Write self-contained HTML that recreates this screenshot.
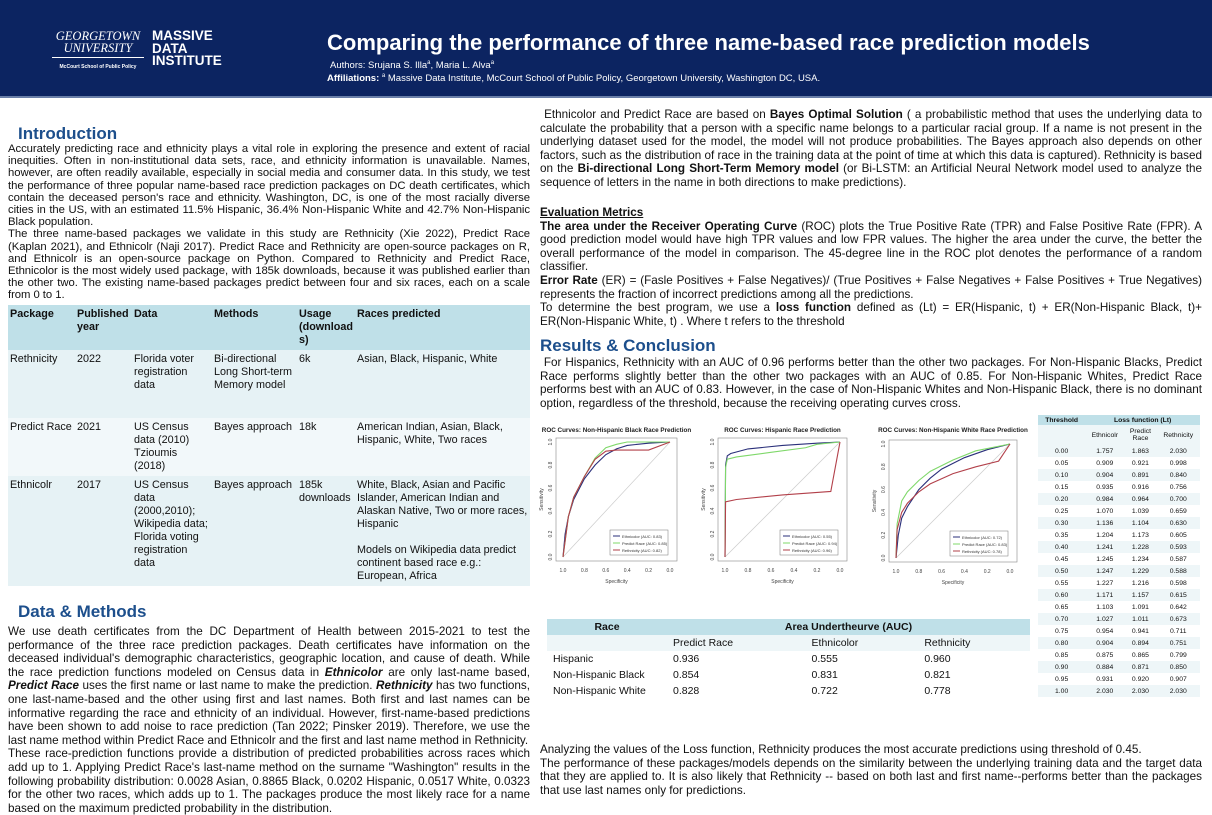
<!DOCTYPE html>
<html><head><meta charset="utf-8">
<style>
*{margin:0;padding:0;box-sizing:border-box}
body{width:1212px;height:808px;overflow:hidden;background:#fff;font-family:"Liberation Sans",sans-serif;color:#111;position:relative}
.abs{position:absolute}
.hdr{left:0;top:0;width:1212px;height:98px;background:#0c2461;border-bottom:2px solid #6a7fa8}
h2{position:absolute;font-size:17px;font-weight:bold;color:#1d4f8c}
.txt{position:absolute;font-size:11.7px;line-height:13.6px;text-align:justify}
table{border-collapse:collapse;font-size:10.8px}
.pk{table-layout:fixed}
.pk td{vertical-align:top;padding:3px 2px;line-height:13px}
.pk th{text-align:left;vertical-align:top;padding:3px 2px;background:#bfe0e8;line-height:13px}
.pk tr.a td{background:#e6f2f5}.pk tr.b td{background:#f2f8fa}
.auc td,.auc th{font-size:10.5px;padding:2px 6px;text-align:left;height:16px}
.auc th{background:#bfe0e8;text-align:center}
.loss td,.loss th{font-size:6.8px;text-align:center;height:12px;line-height:7px;padding:0 2px}
.loss th{background:#bfe0e8;height:10px}
.loss tr:nth-child(even) td{background:#eef6f8}
</style></head><body>
<div class="abs hdr">
 <div class="abs" style="left:52px;top:30px;width:92px;color:#fff;font-family:'Liberation Serif',serif;font-style:italic;font-size:12.5px;line-height:12px;text-align:center">GEORGETOWN<br>UNIVERSITY<div style="border-top:1px solid #fff;margin-top:3px;padding-top:3px;font-size:5px;font-style:normal;font-family:'Liberation Sans';font-weight:bold;white-space:nowrap">McCourt School of Public Policy</div></div>
 <div class="abs" style="left:152px;top:30px;color:#fff;font-weight:bold;font-size:13.5px;line-height:12.5px">MASSIVE<br>DATA<br>INSTITUTE</div>
 <div class="abs" style="left:327px;top:30px;color:#fff;font-weight:bold;font-size:22px">Comparing the performance of three name-based race prediction models</div>
 <div class="abs" style="left:330px;top:60px;color:#fff;font-size:9.5px">Authors: Srujana S. Illa<sup style="font-size:6px">a</sup>, Maria L. Alva<sup style="font-size:6px">a</sup></div>
 <div class="abs" style="left:327px;top:73px;color:#fff;font-size:9.5px"><b>Affiliations:</b> <sup style="font-size:6px">a</sup> Massive Data Institute, McCourt School of Public Policy, Georgetown University, Washington DC, USA.</div>
</div>

<h2 style="left:18px;top:124px">Introduction</h2>
<div class="txt" style="left:8px;top:143px;width:522px;font-size:11.3px;line-height:12.2px;letter-spacing:-0.05px">Accurately predicting race and ethnicity plays a vital role in exploring the presence and extent of racial inequities. Often in non-institutional data sets, race, and ethnicity information is unavailable. Names, however, are often readily available, especially in social media and consumer data. In this study, we test the performance of three popular name-based race prediction packages on DC death certificates, which contain the deceased person's race and ethnicity. Washington, DC, is one of the most racially diverse cities in the US, with an estimated 11.5% Hispanic, 36.4% Non-Hispanic White and 42.7% Non-Hispanic Black population.<br>The three name-based packages we validate in this study are Rethnicity (Xie 2022), Predict Race (Kaplan 2021), and Ethnicolr (Naji 2017). Predict Race and Rethnicity are open-source packages on R, and Ethnicolr is an open-source package on Python. Compared to Rethnicity and Predict Race, Ethnicolor is the most widely used package, with 185k downloads, because it was published earlier than the other two. The existing name-based packages predict between four and six races, each on a scale from 0 to 1.</div>

<table class="abs pk" style="left:8px;top:305px;width:522px">
<colgroup><col style="width:67px"><col style="width:57px"><col style="width:80px"><col style="width:85px"><col style="width:58px"><col style="width:175px"></colgroup>
<tr style="height:42px"><th>Package</th><th>Published year</th><th>Data</th><th>Methods</th><th>Usage (download s)</th><th>Races predicted</th></tr>
<tr class="a" style="height:68px"><td>Rethnicity</td><td>2022</td><td>Florida voter registration data</td><td>Bi-directional Long Short-term Memory model</td><td>6k</td><td>Asian, Black, Hispanic, White</td></tr>
<tr class="b" style="height:47px"><td style="white-space:nowrap">Predict Race</td><td>2021</td><td>US Census data (2010) Tzioumis (2018)</td><td>Bayes approach</td><td>18k</td><td>American Indian, Asian, Black, Hispanic, White, Two races</td></tr>
<tr class="a" style="height:110px"><td>Ethnicolr</td><td>2017</td><td>US Census data (2000,2010); Wikipedia data; Florida voting registration data</td><td>Bayes approach</td><td>185k downloads</td><td>White, Black, Asian and Pacific Islander, American Indian and Alaskan Native, Two or more races, Hispanic<br><br>Models on Wikipedia data predict continent based race e.g.: European, Africa</td></tr>
</table>

<h2 style="left:18px;top:602px">Data &amp; Methods</h2>
<div class="txt" style="left:8px;top:625px;width:522px">We use death certificates from the DC Department of Health between 2015-2021 to test the performance of the three race prediction packages. Death certificates have information on the deceased individual's demographic characteristics, geographic location, and cause of death. While the race prediction functions modeled on Census data in <b><i>Ethnicolor</i></b> are only last-name based, <b><i>Predict Race</i></b> uses the first name or last name to make the prediction. <b><i>Rethnicity</i></b> has two functions, one last-name-based and the other using first and last names. Both first and last names can be informative regarding the race and ethnicity of an individual. However, first-name-based predictions have been shown to add noise to race prediction (Tan 2022; Pinsker 2019). Therefore, we use the last name method within Predict Race and Ethnicolr and the first and last name method in Rethnicity.<br>These race-prediction functions provide a distribution of predicted probabilities across races which add up to 1. Applying Predict Race's last-name method on the surname "Washington" results in the following probability distribution: 0.0028 Asian, 0.8865 Black, 0.0202 Hispanic, 0.0517 White, 0.0323 for the other two races, which adds up to 1. The packages produce the most likely race for a name based on the maximum predicted probability in the distribution.</div>

<div class="txt" style="left:540px;top:108px;width:662px">&nbsp;Ethnicolor and Predict Race are based on <b>Bayes Optimal Solution</b> ( a probabilistic method that uses the underlying data to calculate the probability that a person with a specific name belongs to a particular racial group. If a name is not present in the underlying dataset used for the model, the model will not produce probabilities. The Bayes approach also depends on other factors, such as the distribution of race in the training data at the point of time at which this data is captured). Rethnicity is based on the <b>Bi-directional Long Short-Term Memory model</b> (or Bi-LSTM: an Artificial Neural Network model used to analyze the sequence of letters in the name in both directions to make predictions).</div>
<div class="txt" style="left:540px;top:206px;width:662px"><b><u>Evaluation Metrics</u></b><br><b>The area under the Receiver Operating Curve</b> (ROC) plots the True Positive Rate (TPR) and False Positive Rate (FPR). A good prediction model would have high TPR values and low FPR values. The higher the area under the curve, the better the overall performance of the model in comparison. The 45-degree line in the ROC plot denotes the performance of a random classifier.<br><b>Error Rate</b> (ER) = (Fasle Positives + False Negatives)/ (True Positives + False Negatives + False Positives + True Negatives) represents the fraction of incorrect predictions among all the predictions.<br>To determine the best program, we use a <b>loss function</b> defined as (Lt) = ER(Hispanic, t) + ER(Non-Hispanic Black, t)+ ER(Non-Hispanic White, t) . Where t refers to the threshold</div>

<h2 style="left:540px;top:336px">Results &amp; Conclusion</h2>
<div class="txt" style="left:540px;top:356px;width:662px">&nbsp;For Hispanics, Rethnicity with an AUC of 0.96 performs better than the other two packages. For Non-Hispanic Blacks, Predict Race performs slightly better than the other two packages with an AUC of 0.85. For Non-Hispanic Whites, Predict Race performs best with an AUC of 0.83. However, in the case of Non-Hispanic Whites and Non-Hispanic Black, there is no dominant option, regardless of the threshold, because the receiving operating curves cross.</div>

<svg class="abs" id="roc" style="left:536px;top:420px" width="500" height="172"></svg>

<table class="abs auc" style="left:547px;top:619px;width:483px">
<tr><th style="width:120px;background:#bfe0e8">Race</th><th colspan="3">Area Undertheurve (AUC)</th></tr>
<tr style="background:#eef6f8"><td></td><td>Predict Race</td><td>Ethnicolor</td><td>Rethnicity</td></tr>
<tr><td>Hispanic</td><td>0.936</td><td>0.555</td><td>0.960</td></tr>
<tr><td>Non-Hispanic Black</td><td>0.854</td><td>0.831</td><td>0.821</td></tr>
<tr><td>Non-Hispanic White</td><td>0.828</td><td>0.722</td><td>0.778</td></tr>
</table>

<table class="abs loss" id="loss" style="left:1038px;top:415px;width:162px">
<tr><th>Threshold</th><th colspan="3">Loss function (Lt)</th></tr>
<tr><td style="height:20px"></td><td>Ethnicolr</td><td>Predict<br>Race</td><td>Rethnicity</td></tr>
</table>

<div class="txt" style="left:540px;top:743px;width:662px">Analyzing the values of the Loss function, Rethnicity produces the most accurate predictions using threshold of 0.45.<br>The performance of these packages/models depends on the similarity between the underlying training data and the target data that they are applied to. It is also likely that Rethnicity -- based on both last and first name--performs better than the packages that use last names only for predictions.</div>

<script>
const thresholds=["0.00","0.05","0.10","0.15","0.20","0.25","0.30","0.35","0.40","0.45","0.50","0.55","0.60","0.65","0.70","0.75","0.80","0.85","0.90","0.95","1.00"];
const lossEthnicolr=[1.757,0.909,0.904,0.935,0.984,1.070,1.136,1.204,1.241,1.245,1.247,1.227,1.171,1.103,1.027,0.954,0.904,0.875,0.884,0.931,2.030];
const lossPredict=[1.863,0.921,0.891,0.916,0.964,1.039,1.104,1.173,1.228,1.234,1.229,1.216,1.157,1.091,1.011,0.941,0.894,0.865,0.871,0.920,2.030];
const lossRethnicity=[2.030,0.998,0.840,0.756,0.700,0.659,0.630,0.605,0.593,0.587,0.588,0.598,0.615,0.642,0.673,0.711,0.751,0.799,0.850,0.907,2.030];
const lt=document.getElementById('loss');
thresholds.forEach((t,i)=>{const tr=document.createElement('tr');


tr.innerHTML='<td>'+t+'</td><td>'+lossEthnicolr[i].toFixed(3)+'</td><td>'+lossPredict[i].toFixed(3)+'</td><td>'+lossRethnicity[i].toFixed(3)+'</td>';lt.appendChild(tr);});

const chartTitles=["ROC Curves: Non-Hispanic Black Race Prediction","ROC Curves: Hispanic Race Prediction","ROC Curves: Non-Hispanic White Race Prediction"];
const seriesNames=["Ethnicolor","Predict Race","Rethnicity"];
const seriesColors=["#2a2f7a","#7fd86a","#b2404a"];
const aucLabels=[["0.83","0.85","0.82"],["0.55","0.94","0.96"],["0.72","0.83","0.78"]];
const tickLabels=["1.0","0.8","0.6","0.4","0.2","0.0"];
const tickValues=[1,0.8,0.6,0.4,0.2,0];
// points as [1-specificity, sensitivity]
const blackEth=[[0,0],[0.02,0.2],[0.05,0.35],[0.1,0.5],[0.2,0.68],[0.3,0.8],[0.4,0.89],[0.5,0.94],[0.6,0.97],[0.8,0.99],[1,1]];
const blackPred=[[0,0],[0.05,0.35],[0.1,0.52],[0.2,0.7],[0.3,0.86],[0.4,0.95],[0.5,0.98],[0.6,1.0],[1,1]];
const blackReth=[[0,0],[0.05,0.35],[0.1,0.52],[0.2,0.7],[0.3,0.85],[0.4,0.92],[0.5,0.93],[0.8,0.93],[1,1]];
const hispEth=[[0,0],[0.005,0.8],[0.02,0.88],[0.05,0.9],[0.2,0.94],[0.5,0.97],[0.8,0.99],[1,1]];
const hispPred=[[0,0],[0.005,0.78],[0.02,0.85],[0.1,0.87],[0.4,0.91],[0.7,0.95],[0.8,0.98],[1,1]];
const hispReth=[[0,0],[0.005,0.48],[0.1,0.5],[0.5,0.54],[0.92,0.57],[1,1]];
const whiteEth=[[0,0],[0.02,0.2],[0.05,0.35],[0.1,0.45],[0.2,0.6],[0.3,0.7],[0.4,0.78],[0.6,0.88],[0.8,0.95],[1,1]];
const whitePred=[[0,0],[0.01,0.3],[0.05,0.5],[0.1,0.58],[0.2,0.68],[0.3,0.76],[0.5,0.86],[0.7,0.94],[1,1]];
const whiteReth=[[0,0],[0.01,0.25],[0.05,0.4],[0.1,0.48],[0.2,0.58],[0.3,0.65],[0.5,0.74],[0.7,0.8],[0.9,0.85],[1,1]];
const charts=[[blackEth,blackPred,blackReth],[hispEth,hispPred,hispReth],[whiteEth,whitePred,whiteReth]];
const NS='http://www.w3.org/2000/svg';
const svg=document.getElementById('roc');
function mk(tag,attrs,parent){const e=document.createElementNS(NS,tag);for(const k in attrs)e.setAttribute(k,attrs[k]);(parent||svg).appendChild(e);return e;}
const panels=[{x0:27,x1:134,y0:22,y1:137},{x0:189,x1:304,y0:22,y1:137},{x0:360,x1:474,y0:24,y1:138}];
charts.forEach((series,ci)=>{
 const p=panels[ci];
 const g=mk('g',{});
 
 
 const sx=v=>p.x0+v*(p.x1-p.x0), sy=v=>p.y1-v*(p.y1-p.y0);
 const t=mk('text',{x:(p.x0+p.x1)/2,y:12,'font-size':'6.3','font-weight':'bold','text-anchor':'middle',fill:'#222'},g);t.textContent=chartTitles[ci];
 
 mk('rect',{x:p.x0-7,y:p.y0-4,width:p.x1-p.x0+14,height:p.y1-p.y0+8,fill:'none',stroke:'#888','stroke-width':0.6},g);
 mk('line',{x1:sx(0),y1:sy(0),x2:sx(1),y2:sy(1),stroke:'#ccc','stroke-width':0.7},g);
 tickValues.forEach((v,i)=>{
  const a=mk('text',{x:sx(1-v),y:p.y1+15,'font-size':'5','text-anchor':'middle',fill:'#444'},g);a.textContent=tickLabels[i];
  const b=mk('text',{x:p.x0-11,y:sy(v),'font-size':'5','text-anchor':'middle',fill:'#444',transform:'rotate(-90 '+(p.x0-11)+' '+sy(v)+')'},g);b.textContent=tickLabels[i];
 });
 const xl=mk('text',{x:(p.x0+p.x1)/2,y:p.y1+26,'font-size':'5','text-anchor':'middle',fill:'#444'},g);xl.textContent='Specificity';
 const yx=p.x0-20,yy=(p.y0+p.y1)/2;
 const yl=mk('text',{x:yx,y:yy,'font-size':'5','text-anchor':'middle',fill:'#444',transform:'rotate(-90 '+yx+' '+yy+')'},g);yl.textContent='Sensitivity';
 series.forEach((pts,si)=>{
  const pl=mk('polyline',{points:pts.map(q=>sx(q[0])+','+sy(q[1])).join(' '),fill:'none',stroke:seriesColors[si],'stroke-width':1.1},g);
  
  
 });
 const lx=p.x1-60,ly=p.y1-27;
 mk('rect',{x:lx,y:ly,width:58,height:25,fill:'#fff',stroke:'#777','stroke-width':0.5},g);
 seriesNames.forEach((n,si)=>{
  mk('line',{x1:lx+3,x2:lx+10,y1:ly+6+si*7,y2:ly+6+si*7,stroke:seriesColors[si],'stroke-width':1},g);
  const lt2=mk('text',{x:lx+12,y:ly+8+si*7,'font-size':'4','fill':'#333'},g);lt2.textContent=n+' (AUC: '+aucLabels[ci][si]+')';
  
 });
});
</script>
</body></html>
